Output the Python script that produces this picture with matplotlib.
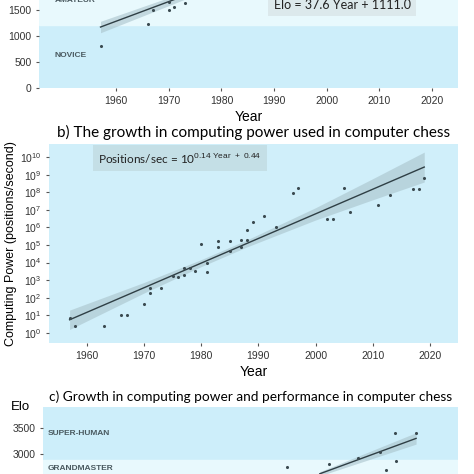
import numpy as np
import matplotlib.pyplot as plt
from matplotlib.ticker import FixedLocator, LogFormatterMathtext

plt.rcParams['font.family'] = ['Liberation Sans', 'DejaVu Sans']
plt.rcParams['mathtext.fontset'] = 'custom'
plt.rcParams['mathtext.rm'] = 'Liberation Sans'

# panel a (top, partly visible)
elo_years = [1957, 1966, 1967, 1970, 1970, 1971, 1973]
elo_values = [800, 1230, 1490, 1490, 1660, 1550, 1640]
elo_fit_years = [1957, 1973]
elo_fit = [1170, 1772]
elo_fit_hw = [110, 70]

# panel b
cp_years = [1957, 1958, 1963, 1966, 1967, 1970, 1971, 1971, 1973, 1975, 1976, 1977, 1977,
            1978, 1979, 1980, 1981, 1981, 1983, 1983, 1985, 1985, 1987, 1987, 1988, 1988,
            1989, 1991, 1993, 1996, 1997, 2002, 2003, 2005, 2006, 2011, 2013, 2017, 2018, 2019]
cp_log = [0.85, 0.42, 0.42, 1.04, 1.04, 1.66, 2.55, 2.30, 2.55, 3.25, 3.17, 3.72, 3.30,
          3.72, 3.55, 5.06, 4.0, 3.49, 5.23, 4.87, 5.23, 4.68, 5.28, 4.9, 5.28, 5.85,
          6.28, 6.66, 6.04, 7.96, 8.26, 6.45, 6.45, 8.26, 6.89, 7.26, 7.83, 8.2, 8.2, 8.83]
cp_fit_years = [1957, 1970, 1980, 1988, 2000, 2010, 2019]
cp_fit_log = [0.75, 2.57, 3.97, 5.09, 6.77, 8.17, 9.43]
cp_fit_hw = [0.55, 0.3, 0.2, 0.2, 0.35, 0.6, 0.85]

# panel c (bottom, partly visible)
c_x = [5.88, 6.89, 7.59, 8.12, 8.27, 8.48, 8.5, 8.99]
c_elo = [2750, 2800, 2920, 3030, 2700, 3400, 2870, 3400]
c_fit_x = [6.67, 8.99]
c_fit = [2620, 3300]
c_fit_hw = [40, 110]

dark = '#cdeefa'
light = '#e8f9fd'
W = 474
fig = plt.figure(figsize=(4.74, 4.74), dpi=100)
title_font = 'Lato'
dot = '#3a4a50'

def style(ax):
    for s in ax.spines.values():
        s.set_visible(False)
    ax.tick_params(colors='#555555', labelcolor='#333333', labelsize=7.5, length=2)

# --- top
ax = fig.add_axes([39 / W, 1 - 88 / W, 419 / W, 198 / W])
ax.set_xlim(1945.3, 2025)
ax.set_ylim(0, 3800)
ax.axhspan(0, 1200, color=dark, zorder=0)
ax.axhspan(1200, 3800, color=light, zorder=0)
ax.fill_between(elo_fit_years, np.array(elo_fit) - elo_fit_hw, np.array(elo_fit) + elo_fit_hw,
                color='#a9c3cb', alpha=0.6, lw=0, zorder=1)
ax.plot(elo_fit_years, elo_fit, color='#2f3f45', lw=1, zorder=2)
ax.scatter(elo_years, elo_values, s=1.5, color=dot, zorder=3)
ax.text(1945.3 + 3, 600, 'NOVICE', fontsize=6, color='#4a5a60', weight='bold')
ax.text(1945.3 + 3, 1650, 'AMATEUR', fontsize=6, color='#4a5a60', weight='bold')
ax.text(2003, 1600, 'Elo = 37.6 Year + 1111.0', fontsize=9, color='#222222', ha='center',
        va='center', family=title_font, bbox=dict(facecolor='#dce9ec', edgecolor='none', pad=4))
ax.set_xticks([1960, 1970, 1980, 1990, 2000, 2010, 2020])
ax.set_yticks([0, 500, 1000, 1500])
ax.set_xlabel('Year', fontsize=10, labelpad=3)
style(ax)

# --- middle
ax = fig.add_axes([49 / W, 1 - 343 / W, 409 / W, 199 / W])
ax.set_facecolor('#d0effa')
ax.set_xlim(1953.4, 2024.9)
ax.set_yscale('log')
ax.set_ylim(10 ** -0.57, 10 ** 10.74)
fy = 10 ** np.array(cp_fit_log)
hw = np.array(cp_fit_hw)
ax.fill_between(cp_fit_years, 10 ** (np.array(cp_fit_log) - hw), 10 ** (np.array(cp_fit_log) + hw),
                color='#a9c3cb', alpha=0.6, lw=0, zorder=1)
ax.plot(cp_fit_years, fy, color='#2f3f45', lw=1, zorder=2)
ax.scatter(cp_years, 10 ** np.array(cp_log), s=1.5, color=dot, zorder=3)
ax.yaxis.set_major_locator(FixedLocator([10.0 ** k for k in range(11)]))
ax.yaxis.set_major_formatter(LogFormatterMathtext())
ax.yaxis.set_minor_locator(FixedLocator([]))
ax.set_xticks([1960, 1970, 1980, 1990, 2000, 2010, 2020])
ax.text(0.32, 0.93, r'Positions/sec = 10$^{0.14\ \mathrm{Year}\ +\ 0.44}$', transform=ax.transAxes,
        fontsize=8.5, color='#222222', ha='center', va='center', family=title_font,
        bbox=dict(facecolor='#c4dfe6', edgecolor='none', pad=4))
ax.set_xlabel('Year', fontsize=10, labelpad=3)
ax.set_ylabel('Computing Power (positions/second)', fontsize=9, labelpad=2)
ax.set_title('b) The growth in computing power used in computer chess', fontsize=11,
             family=title_font, pad=5)
style(ax)

# --- bottom
ax = fig.add_axes([43 / W, 1 - 532 / W, 415 / W, 125 / W])
ax.set_xlim(0, 10)
ax.set_ylim(1500, 3904)
ax.axhspan(2885, 3904, color=dark, zorder=0)
ax.axhspan(1500, 2885, color=light, zorder=0)
ax.fill_between(c_fit_x, np.array(c_fit) - c_fit_hw, np.array(c_fit) + c_fit_hw,
                color='#a9c3cb', alpha=0.6, lw=0, zorder=1)
ax.plot(c_fit_x, c_fit, color='#2f3f45', lw=1, zorder=2)
ax.scatter(c_x, c_elo, s=1.5, color=dot, zorder=3)
ax.text(0.12, 3370, 'SUPER-HUMAN', fontsize=6, color='#4a5a60', weight='bold')
ax.text(0.12, 2700, 'GRANDMASTER', fontsize=6, color='#4a5a60', weight='bold')
ax.set_xticks([])
ax.set_yticks([3000, 3500])
ax.text(246 / W * 0 + 0.5, 1.035, 'c) Growth in computing power and performance in computer chess',
        transform=ax.transAxes, fontsize=9.8, family=title_font, ha='center', va='bottom')
style(ax)
fig.text(20 / W, 1 - 407 / W, 'Elo', fontsize=9.5, ha='center', va='center')

fig.savefig('out.png', dpi=100)
